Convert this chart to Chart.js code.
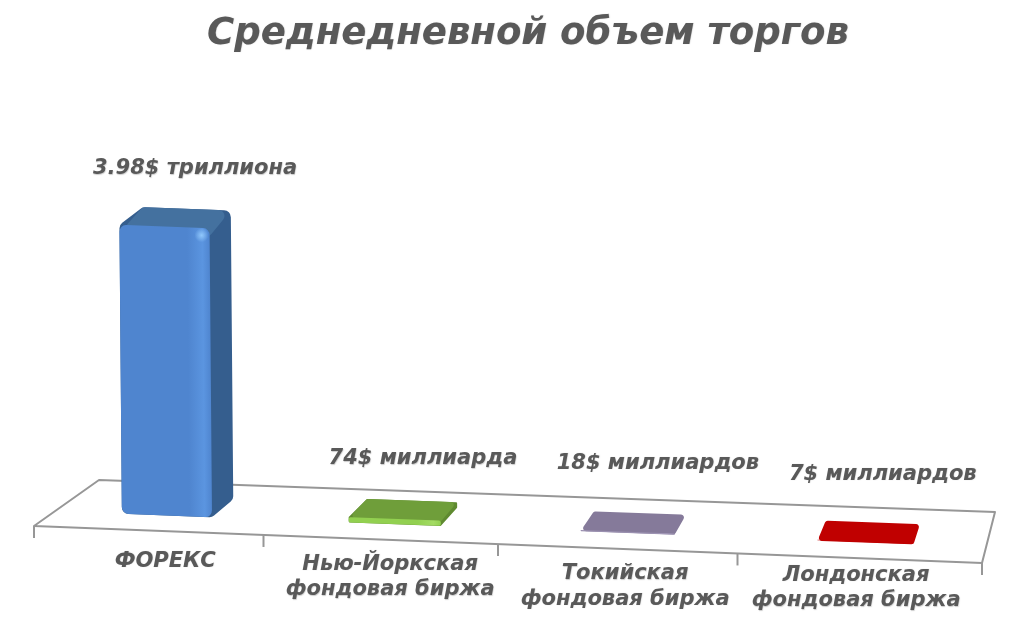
<!DOCTYPE html>
<html lang="ru">
<head>
<meta charset="utf-8">
<title>Среднедневной объем торгов</title>
<script src="https://cdn.jsdelivr.net/npm/chart.js@4"></script>
<style>
  html, body { margin: 0; padding: 0; background: #fff; }
  canvas { display: block; }
</style>
</head>
<body>
<canvas id="volume-chart" width="1029" height="642"></canvas>
<script>
const chartTitle = 'Среднедневной объем торгов';
const categories = [['ФОРЕКС'], ['Нью-Йоркская', 'фондовая биржа'], ['Токийская', 'фондовая биржа'], ['Лондонская', 'фондовая биржа']];
// billions of dollars
const volumes = [3980, 74, 18, 7];
const valueLabels = ['3.98$ триллиона', '74$ миллиарда', '18$ миллиардов', '7$ миллиардов'];

const frontColors = ['#4f85cf', '#92d050', '#9a90b0', '#c00000'];
const glowColors = ['#5b95e0', '#a4dc64', '#a59bbb', '#c00000'];
const topColors = ['#44719f', '#6f9e3a', '#857a9a', '#c00000'];
const sideColors = ['#355e8e', '#5f8a30', '#73688a', '#a00000'];

const textColor = '#595959';
const axisColor = '#979797';

// floor plane: how far the back edge sits from the front edge, left and right end
const slope = 37 / 948;
const depthX = [65, 13];
const depthY = [-46, -51];
const perspective = 40;
const barFront = 0.32;
const barBack = 0.70;
const lean = 0.0085;

// Point on the tilted floor for a pixel on the x axis, t = 0 front edge, t = 1 back edge
function floorPoint(area, px, t) {
  const u = (px - area.left) / area.width;
  const wx = px - perspective * u * (1 - u);
  return {
    x: wx + (depthX[0] + (depthX[1] - depthX[0]) * u) * t,
    y: area.bottom + slope * (wx - area.left) + (depthY[0] + (depthY[1] - depthY[0]) * u) * t
  };
}

function roundedPoly(ctx, pts, r) {
  ctx.beginPath();
  const last = pts[pts.length - 1];
  ctx.moveTo((last.x + pts[0].x) / 2, (last.y + pts[0].y) / 2);
  pts.forEach((p, i) => {
    const next = pts[(i + 1) % pts.length];
    ctx.arcTo(p.x, p.y, next.x, next.y, r);
  });
  ctx.closePath();
}

function drawText(ctx, lines, x, y, font, lineHeight) {
  ctx.save();
  ctx.font = font;
  ctx.fillStyle = textColor;
  ctx.textAlign = 'center';
  ctx.textBaseline = 'middle';
  ctx.shadowColor = 'rgba(0,0,0,0.2)';
  ctx.shadowBlur = 1;
  ctx.shadowOffsetX = 0.5;
  ctx.shadowOffsetY = 0.5;
  lines.forEach((line, i) => ctx.fillText(line, x, y + i * lineHeight));
  ctx.restore();
}

const floorPlugin = {
  id: 'floor',
  beforeDatasetsDraw(chart) {
    const { ctx, chartArea: area } = chart;
    const meta = chart.getDatasetMeta(0);

    // floor outline and ticks
    const fl = floorPoint(area, area.left, 0), fr = floorPoint(area, area.right, 0);
    const bl = floorPoint(area, area.left, 1), br = floorPoint(area, area.right, 1);
    ctx.save();
    ctx.strokeStyle = axisColor;
    ctx.lineWidth = 2;
    ctx.lineJoin = 'round';
    ctx.beginPath();
    ctx.moveTo(fl.x, fl.y);
    ctx.lineTo(bl.x, bl.y);
    ctx.lineTo(br.x, br.y);
    ctx.lineTo(fr.x, fr.y);
    ctx.closePath();
    ctx.stroke();
    for (let i = 0; i <= categories.length; i++) {
      const p = floorPoint(area, area.left + i * area.width / categories.length, 0);
      ctx.beginPath();
      ctx.moveTo(p.x, p.y);
      ctx.lineTo(p.x, p.y + 12);
      ctx.stroke();
    }
    ctx.restore();

    meta.data.forEach((bar, i) => {
      const h = bar.base - bar.y;
      const left = bar.x - bar.width / 2, right = bar.x + bar.width / 2;
      const a = floorPoint(area, left, barFront), b = floorPoint(area, right, barFront);
      const c = floorPoint(area, right, barBack), d = floorPoint(area, left, barBack);
      const lift = p => ({ x: p.x - lean * h, y: p.y - h });
      const tall = h > 20;

      // side and top faces, from the bar the library laid out
      ctx.save();
      if (h > 2) {
        ctx.fillStyle = sideColors[i];
        roundedPoly(ctx, [a, b, c, lift(c), lift(d), lift(a)], tall ? 7 : 1);
        ctx.fill();
      }
      const tuck = tall ? 8 : 1;
      const la = lift(a), lb = lift(b);
      ctx.fillStyle = topColors[i];
      roundedPoly(ctx, [{ x: la.x, y: la.y + tuck }, { x: lb.x, y: lb.y + tuck }, lift(c), lift(d)], tall ? 6 : 3);
      ctx.fill();
      ctx.restore();

      // front face is the library's own bar, sheared onto the floor
      const sx = (b.x - a.x) / bar.width, sy = (b.y - a.y) / bar.width;
      ctx.save();
      ctx.transform(sx, sy, lean, 1, a.x - sx * left - lean * bar.base, a.y - sy * left - bar.base);
      bar.draw(ctx);
      ctx.restore();

      // small glint on the corner of the tall bar
      if (tall) {
        const spot = { x: lb.x - 8, y: lb.y + 7 };
        const glint = ctx.createRadialGradient(spot.x, spot.y, 0, spot.x, spot.y, 7);
        glint.addColorStop(0, 'rgba(150,205,255,0.9)');
        glint.addColorStop(1, 'rgba(150,205,255,0)');
        ctx.fillStyle = glint;
        ctx.fillRect(spot.x - 7, spot.y - 7, 14, 14);
      }
    });
    return false;
  },
  afterDraw(chart) {
    const { ctx, chartArea: area } = chart;
    const meta = chart.getDatasetMeta(0);
    const titleFont = 'italic bold 37px "DejaVu Sans"';
    const labelFont = 'italic bold 21px "DejaVu Sans"';
    drawText(ctx, [chartTitle], 528, 34, titleFont, 0);

    const valueDX = [6, 11, 18, 10];
    const valueDY = [-40, -42, -50, -48];
    const captionDX = [17, 10, 8, -3];
    const captionDY = [31, 25, 25, 17];
    meta.data.forEach((bar, i) => {
      const top = floorPoint(area, bar.x, barBack);
      drawText(ctx, [valueLabels[i]], top.x + valueDX[i], top.y - (bar.base - bar.y) + valueDY[i], labelFont, 0);

      const foot = floorPoint(area, bar.x, 0);
      drawText(ctx, categories[i], foot.x + captionDX[i], foot.y + captionDY[i], labelFont, 25.5);
    });
  }
};

new Chart(document.getElementById('volume-chart'), {
  type: 'bar',
  data: {
    labels: categories,
    datasets: [{
      data: volumes,
      barPercentage: 0.4,
      categoryPercentage: 1,
      borderSkipped: false,
      borderRadius: context => volumes[context.dataIndex] > 1000 ? 7 : 2,
      backgroundColor(context) {
        const i = context.dataIndex;
        const x = context.chart.scales.x;
        if (!x || i === undefined) return frontColors[0];
        const mid = x.getPixelForValue(i);
        if (!isFinite(mid)) return frontColors[i];
        const half = x.width / categories.length * 0.2;
        const grad = context.chart.ctx.createLinearGradient(mid - half, 0, mid + half, 0);
        grad.addColorStop(0, frontColors[i]);
        grad.addColorStop(0.75, frontColors[i]);
        grad.addColorStop(0.92, glowColors[i]);
        grad.addColorStop(1, frontColors[i]);
        return grad;
      }
    }]
  },
  options: {
    responsive: false,
    animation: false,
    layout: { padding: { top: 192, bottom: 116, left: 34, right: 47 } },
    plugins: { legend: { display: false }, tooltip: { enabled: false }, title: { display: false } },
    scales: {
      x: { display: false },
      y: { display: false, min: 0, max: 4600 }
    }
  },
  plugins: [floorPlugin]
});
</script>
</body>
</html>
